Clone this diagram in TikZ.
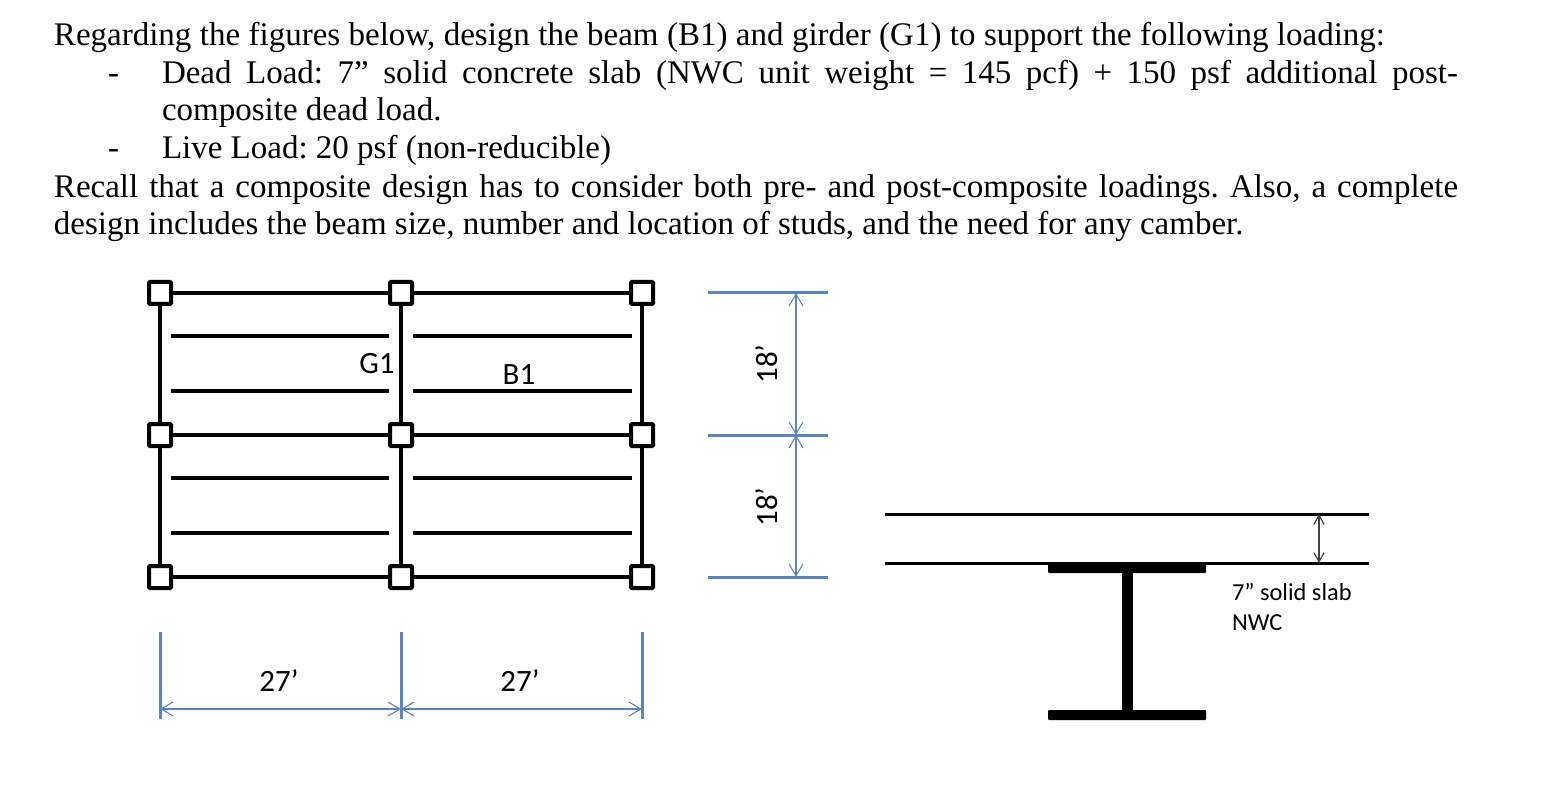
\documentclass[tikz,border=0pt]{standalone}
\usepackage{fontspec}
\setmainfont{Liberation Serif}
\newfontfamily\calib{Carlito}
\usetikzlibrary{arrows.meta}
\definecolor{dimblue}{HTML}{5A86C0}
\frenchspacing
\tikzset{
  x=0.5pt,y=-0.5pt,
  para/.style={anchor=base west,inner sep=0,outer sep=0,font=\fontsize{16.5}{18}\selectfont},
  lab/.style={inner sep=0,outer sep=0,font=\calib\fontsize{15.5}{18}\selectfont},
  smalllab/.style={anchor=base west,inner sep=0,outer sep=0,font=\calib\fontsize{12.2}{14}\selectfont},
  joint/.style={draw=black,fill=white,line width=2pt,rounded corners=0.5pt,minimum size=11pt,inner sep=0,outer sep=0},
  frameline/.style={draw=black,line width=2pt},
  beamline/.style={draw=black,line width=2pt},
  dimbar/.style={draw=dimblue,line width=1.5pt},
  dimarrow/.style={draw=dimblue,line width=0.55pt,{Straight Barb[length=6pt,width=7pt]}-{Straight Barb[length=6pt,width=7pt]}},
  slabline/.style={draw=black,line width=1.5pt},
  slabarrow/.style={draw=black!75,line width=0.6pt,{Straight Barb[length=4.5pt,width=5pt]}-{Straight Barb[length=4.5pt,width=5pt]}},
  steel/.style={fill=black,rounded corners=0.5pt}
}
\begin{document}
\begin{tikzpicture}
\useasboundingbox (0,0) rectangle (1542,802);
% text
\node[para] (t1) at (54,45.5) {\makebox[1331\dimexpr0.5pt\relax][s]{Regarding the figures below, design the beam (B1) and girder (G1) to support the following loading:}};
\node[para] (d1) at (108,83.5) {-};
\node[para] (t2) at (162,83.5) {\makebox[1296\dimexpr0.5pt\relax][s]{Dead Load: 7” solid concrete slab (NWC unit weight = 145 pcf) + 150 psf additional post-}};
\node[para] (t3) at (162,120.5) {composite dead load.};
\node[para] (d2) at (108,158.5) {-};
\node[para] (t4) at (162,158.5) {Live Load: 20 psf (non-reducible)};
\node[para] (t5) at (54,197.5) {\makebox[1404\dimexpr0.5pt\relax][s]{Recall that a composite design has to consider both pre- and post-composite loadings. Also, a complete}};
\node[para] (t6) at (54,234.5) {design includes the beam size, number and location of studs, and the need for any camber.};
% joints
\foreach \n/\px/\py in {a1/160/293,a2/401/293,a3/642/293,b1/160/435,b2/401/435,b3/642/435,c1/160/577,c2/401/577,c3/642/577}
  \coordinate (p\n) at (\px,\py);
\foreach \p/\q in {a1/a2,a2/a3,b1/b2,b2/b3,c1/c2,c2/c3,a1/b1,b1/c1,a2/b2,b2/c2,a3/b3,b3/c3}
  \draw[frameline] (p\p) -- (p\q);
\foreach \n in {a1,a2,a3,b1,b2,b3,c1,c2,c3}
  \node[joint] (\n) at (p\n) {};
% filler beams
\foreach \i/\yy in {1/336,2/391,3/478,4/533}{
  \coordinate (l\i) at (171,\yy); \coordinate (m\i) at (389,\yy);
  \coordinate (r\i) at (413,\yy); \coordinate (s\i) at (632,\yy);
  \draw[beamline] (l\i) -- (m\i);
  \draw[beamline] (r\i) -- (s\i);
}
\node[lab] (g1) at (377,364) {G1};
\node[lab] (b1lab) at (519,375) {B1};
% vertical dimension
\foreach \n/\yy in {v1/293,v2/435,v3/577}{
  \coordinate (\n L) at (708,\yy); \coordinate (\n R) at (828,\yy); \coordinate (\n M) at (796,\yy);
  \draw[dimbar] (\n L) -- (\n R);
}
\draw[dimarrow] (v1M) -- (v2M);
\draw[dimarrow] (v2M) -- (v3M);
\node[lab,rotate=90] (h1) at (767,364) {18’};
\node[lab,rotate=90] (h2) at (767,507) {18’};
% horizontal dimension
\foreach \n/\xx in {h1/160,h2/401,h3/642}{
  \coordinate (\n T) at (\xx,632); \coordinate (\n B) at (\xx,719); \coordinate (\n M) at (\xx,709);
  \draw[dimbar] (\n T) -- (\n B);
}
\draw[dimarrow] (h1M) -- (h2M);
\draw[dimarrow] (h2M) -- (h3M);
\node[lab] (w1) at (279,681) {27’};
\node[lab] (w2) at (520,681) {27’};
% section
\coordinate (s1L) at (885,514); \coordinate (s1R) at (1369,514); \coordinate (s1M) at (1319,514);
\coordinate (s2L) at (885,563); \coordinate (s2R) at (1369,563); \coordinate (s2M) at (1319,563);
\draw[slabline] (s1L) -- (s1R);
\draw[slabline] (s2L) -- (s2R);
\draw[slabarrow] (s1M) -- (s2M);
\fill[steel] (1048,562) rectangle (1206,573);
\fill[steel] (1048,710) rectangle (1206,720);
\fill (1122,570) rectangle (1133,712);
\node[smalllab] (n1) at (1232,600) {7” solid slab};
\node[smalllab] (n2) at (1232,630) {NWC};
\end{tikzpicture}
\end{document}
